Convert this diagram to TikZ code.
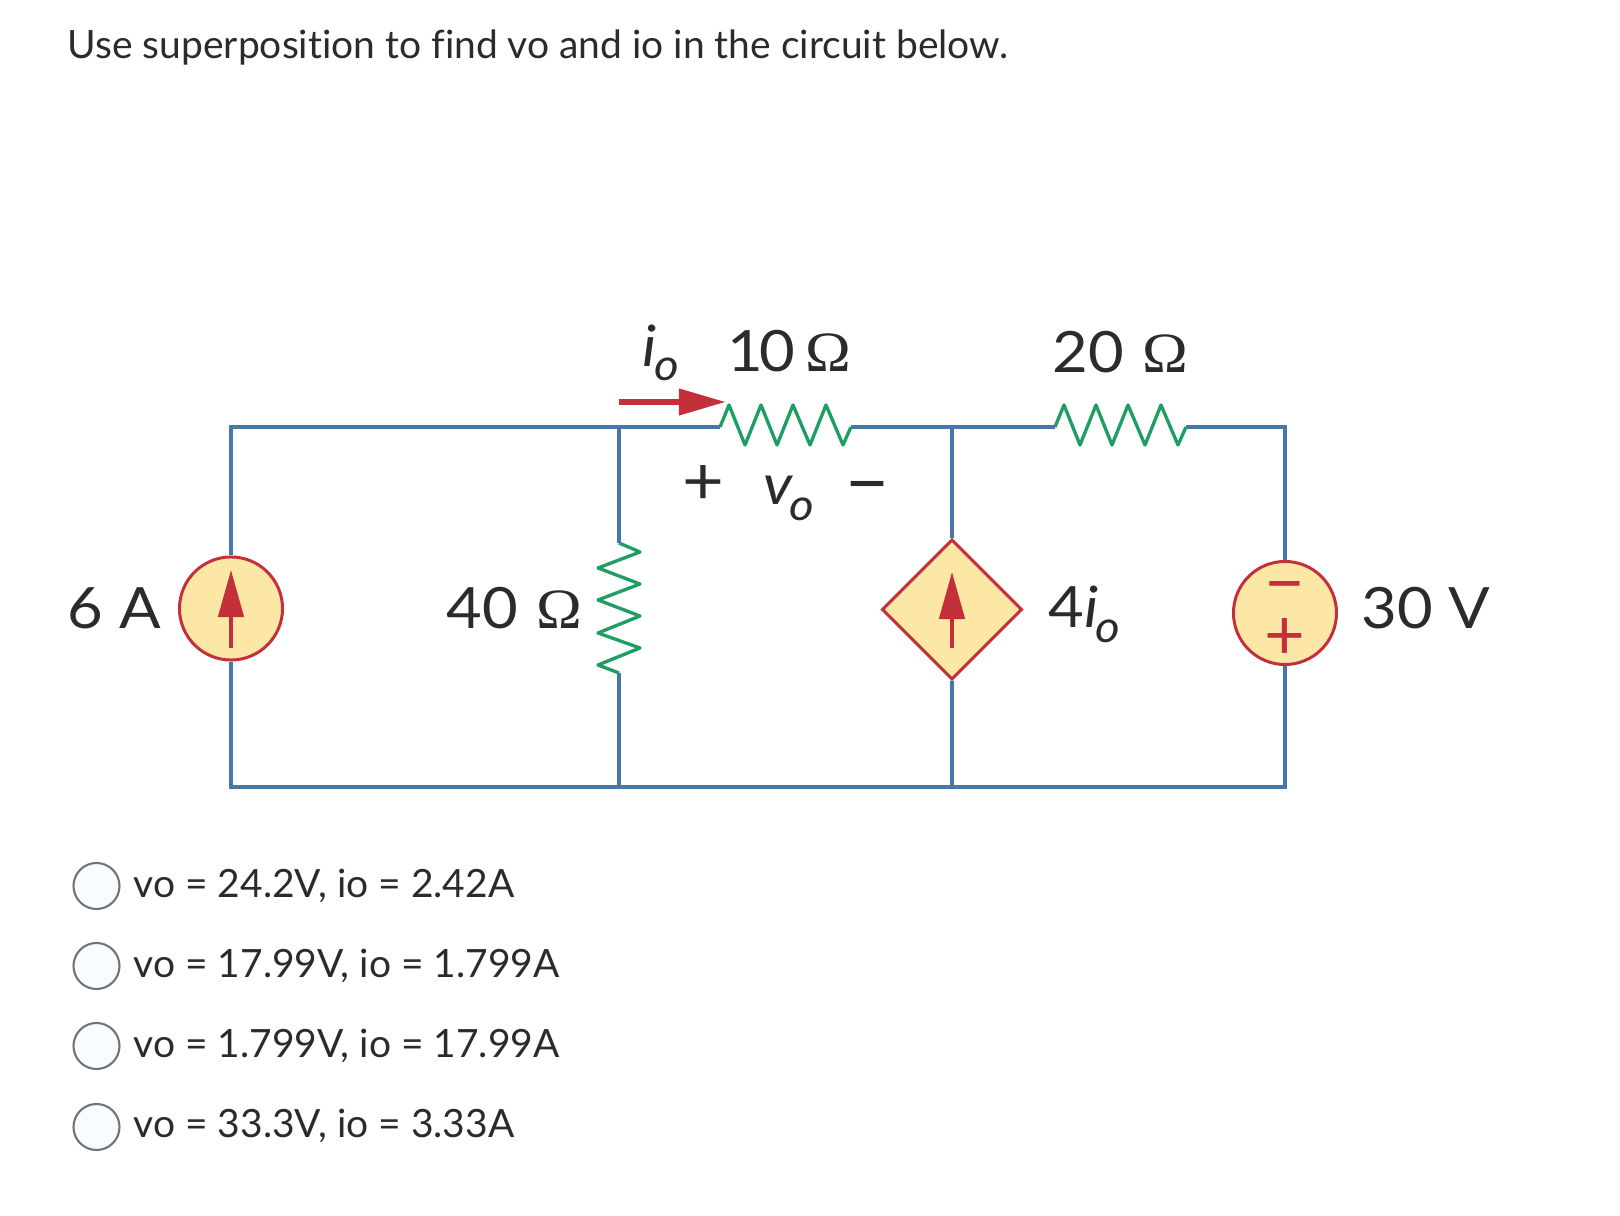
\documentclass[tikz,border=0pt]{standalone}
\usepackage{fontspec}
\setmainfont{Lato}[Ligatures=NoCommon]
\newfontfamily\lbfont[FakeStretch=1.08]{Lato}
\newfontfamily\omfont[FakeStretch=1.08]{Liberation Serif}
\usetikzlibrary{arrows.meta,shapes.geometric}
\definecolor{wirecol}{HTML}{4677AC}
\definecolor{rescol}{HTML}{1E9E63}
\definecolor{redcol}{HTML}{C4303A}
\definecolor{srccol}{HTML}{FDE7A6}
\definecolor{txtcol}{HTML}{2B2B2B}
\definecolor{radcol}{HTML}{6F7477}
\definecolor{radfil}{HTML}{F8FBFF}
\begin{document}
\begin{tikzpicture}[x=0.01cm,y=-0.01cm]
    \tikzstyle{wi} = [draw=wirecol,line width=0.9pt] %wire
    \tikzstyle{rs} = [draw=rescol,line width=0.95pt,line join=round] %resistor
    \tikzstyle{cs} = [circle,draw=redcol,fill=srccol,line width=0.85pt,minimum size=1.03cm,inner sep=0pt] %source
    \tikzstyle{ds} = [diamond,draw=redcol,fill=srccol,line width=0.85pt,minimum size=1.4cm,inner sep=0pt] %dependent source
    \tikzstyle{ar} = [draw=redcol,line width=1.1pt,-{Triangle[length=13.4pt,width=7.2pt]}] %arrow in source
    \tikzstyle{lb} = [anchor=base west,inner sep=0pt,text=txtcol,font=\lbfont\fontsize{16.2}{18}\selectfont] %circuit label
    \tikzstyle{sb} = [anchor=base west,inner sep=0pt,text=txtcol,font=\lbfont\fontsize{12.5}{14}\itshape\selectfont] %subscript
    \tikzstyle{ot} = [anchor=base west,inner sep=0pt,text=txtcol,font=\fontsize{11.08}{13}\selectfont] %question text
    \tikzstyle{rb} = [circle,draw=radcol,fill=radfil,line width=0.6pt,minimum size=0.46cm,inner sep=0pt] %radio button
    \tikzstyle{sg} = [anchor=center,inner sep=0pt,text=redcol,font=\fontsize{20}{22}\selectfont] %sign in source
    \useasboundingbox(0,0)rectangle(1620,1216);
    \node[ot](title)at(67,58.5){Use superposition to find vo and io in the circuit below.};
    % sources
    \node[cs](s6)at(231,608.5){};
    \node[ds](dp)at(952,609.5){};
    \node[cs](s30)at(1285,613){};
    % wire points
    \coordinate(j1)at(619,427);
    \coordinate(j2)at(952,427);
    \coordinate(r10a)at(720,427);
    \coordinate(r10b)at(851,427);
    \coordinate(r20a)at(1055,427);
    \coordinate(r20b)at(1186,427);
    \coordinate(r40a)at(619,543);
    \coordinate(r40b)at(619,673);
    \coordinate(b1)at(619,787);
    \coordinate(b2)at(952,787);
    \coordinate(br)at(1285,787);
    \draw[wi](s6.north)|-(r10a);
    \draw[wi](r10b)--(r20a);
    \draw[wi](r20b)-|(s30.north);
    \draw[wi](s6.south)|-(br)--(s30.south);
    \draw[wi](j1)--(r40a);
    \draw[wi](r40b)--(b1);
    \draw[wi](j2)--(dp.north);
    \draw[wi](dp.south)--(b2);
    % resistors
    \draw[rs](r10a)--++(9,-22)--++(16,40)--++(16,-40)--++(16,40)--++(16,-40)--++(17,40)--++(16,-40)--++(17,40)--(r10b);
    \draw[rs](r20a)--++(9,-22)--++(16,40)--++(16,-40)--++(16,40)--++(16,-40)--++(17,40)--++(16,-40)--++(17,40)--(r20b);
    \draw[rs](r40a)--++(21,9)--++(-42,16)--++(42,16)--++(-42,16)--++(42,16)--++(-42,17)--++(42,15)--++(-42,17)--(r40b);
    % arrows
    \coordinate(a6a)at(231,648);
    \coordinate(a6b)at(231,570);
    \coordinate(ada)at(952,648);
    \coordinate(adb)at(952,572);
    \coordinate(ioa)at(619,402);
    \coordinate(iob)at(726,402);
    \draw[ar](a6a)--(a6b);
    \draw[ar](ada)--(adb);
    \draw[ar,line width=1.8pt](ioa)--(iob);
    \node[sg](sm)at(1285,595){−};
    \node[sg](sp)at(1285,639){+};
    % labels
    \node[lb](l6)at(67,629){6 A};
    \node[lb](l40)at(446,629){40\kern0.8pt\ {\omfont Ω}};
    \node[lb](l10)at(727,372){1\kern-1pt 0\kern-1.6pt\ {\omfont Ω}};
    \node[lb](l20)at(1052,373){20\kern0.8pt\ {\omfont Ω}};
    \node[lb](l30)at(1361,629){30 V};
    \node[lb,font=\lbfont\fontsize{16.2}{18}\itshape\selectfont](li)at(642,367){i};
    \node[sb](lio)at(654,381){o};
    \node[lb,font=\lbfont\fontsize{19}{21}\selectfont](lp)at(682,505){+};
    \node[lb,font=\lbfont\fontsize{16}{18}\itshape\selectfont](lv)at(763,505){v};
    \node[sb](lvo)at(789,521){o};
    \node[lb,font=\fontsize{21.6}{23}\selectfont](lm)at(845,510){−};
    \node[lb](l4)at(1048,628){4{\itshape i}};
    \node[sb](l4o)at(1095,643){o};
    % answers
    \node[rb](c1)at(96.5,886){};
    \node[rb](c2)at(96.5,966){};
    \node[rb](c3)at(96.5,1046){};
    \node[rb](c4)at(96.5,1127){};
    \node[ot](t1)at(133,898){vo = 24.2V, io = 2.42A};
    \node[ot](t2)at(133,978){vo = 17.99V, io = 1.799A};
    \node[ot](t3)at(133,1058){vo = 1.799V, io = 17.99A};
    \node[ot](t4)at(133,1138){vo = 33.3V, io = 3.33A};
  \end{tikzpicture}
\end{document}
